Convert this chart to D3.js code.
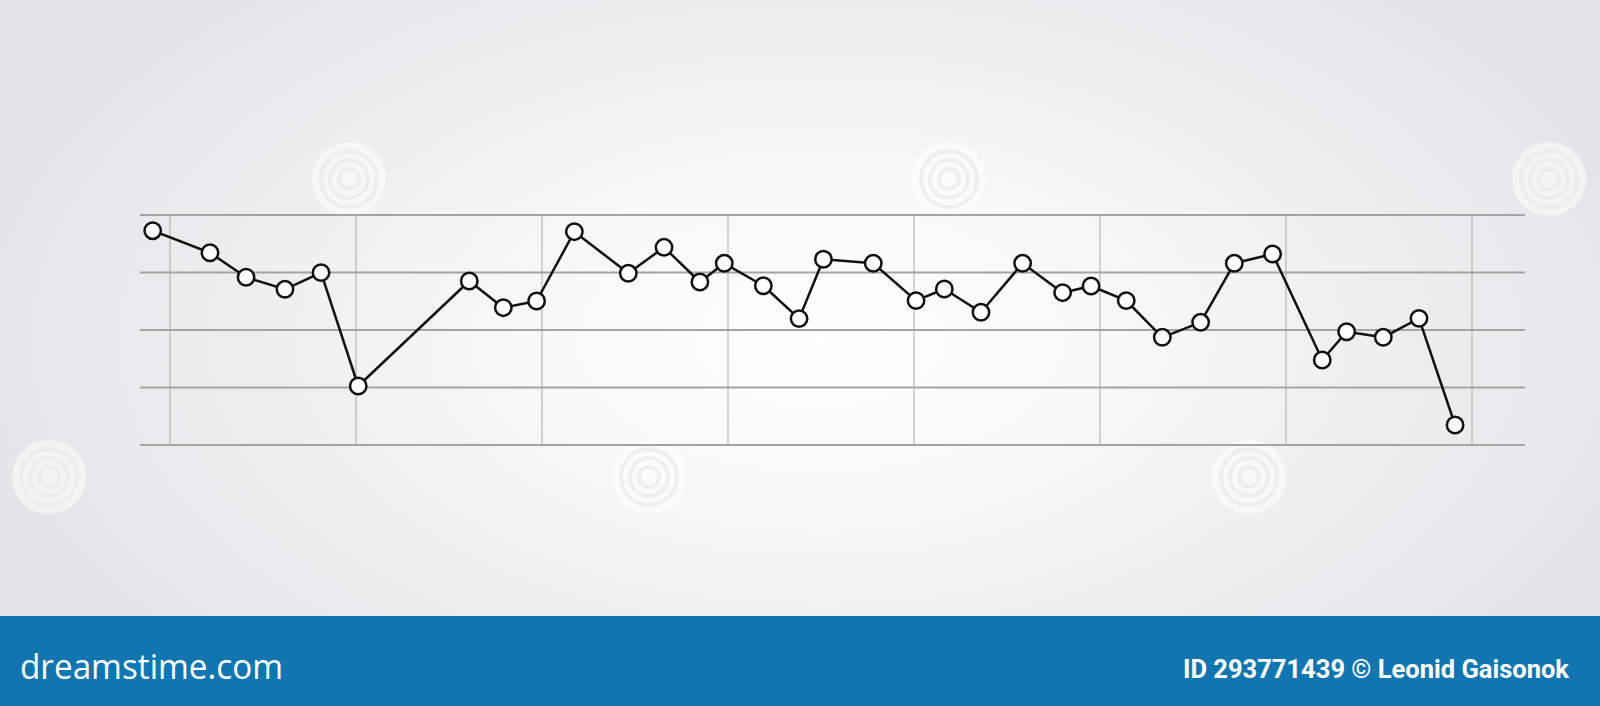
<!DOCTYPE html>
<html>
<head>
<meta charset="utf-8">
<script src="https://cdn.jsdelivr.net/npm/d3@7"></script>
<style>
html,body{margin:0;padding:0;overflow:hidden;background:#fff;}
svg{display:block;}
</style>
</head>
<body>
<svg id="chart" width="1600" height="706"></svg>
<script>
// Data (x in grid-column units, y in grid-row units)
const xValues = [-0.093,0.215,0.409,0.618,0.812,1.012,1.609,1.792,1.971,2.174,2.464,2.656,2.849,2.980,3.190,3.382,3.513,3.781,4.011,4.163,4.360,4.584,4.799,4.952,5.141,5.335,5.541,5.722,5.928,6.195,6.326,6.523,6.715,6.909];
const yValues = [3.727,3.344,2.917,2.708,2.997,1.026,2.852,2.388,2.504,3.710,2.986,3.438,2.835,3.160,2.770,2.197,3.230,3.160,2.510,2.713,2.308,3.160,2.649,2.765,2.510,1.873,2.134,3.160,3.322,1.478,1.970,1.873,2.203,0.348];
const xGridTicks = [0,1,2,3,4,5,6,7];
const yGridTicks = [0,1,2,3,4];
const brandText = "dreamstime.com";
const creditText = "ID 293771439 \u00A9 Leonid Gaisonok";

const W = 1600, H = 706;
const svg = d3.select("#chart");
const defs = svg.append("defs");
const rg = defs.append("radialGradient").attr("id","bg")
  .attr("gradientUnits","userSpaceOnUse")
  .attr("cx",820).attr("cy",340).attr("r",900)
  .attr("gradientTransform","translate(820,340) scale(1,0.55) translate(-820,-340)");
rg.append("stop").attr("offset","0").attr("stop-color","#ffffff");
rg.append("stop").attr("offset","0.35").attr("stop-color","#f7f7f7");
rg.append("stop").attr("offset","1").attr("stop-color","#e2e3e5");
svg.append("rect").attr("width",W).attr("height",H).attr("fill","url(#bg)");

// faint watermark logos
const wm = [[349,179],[949,179],[1549,179],[49,477],[649,477],[1249,477]];
const wmG = svg.append("g");
wm.forEach(([cx,cy])=>{
  wmG.append("circle").attr("cx",cx).attr("cy",cy).attr("r",37)
    .attr("fill","#ffffff").attr("opacity",0.55);
  [28,19,10].forEach(r=>{
    wmG.append("circle").attr("cx",cx).attr("cy",cy).attr("r",r)
      .attr("fill","none").attr("stroke","#e9e9e9").attr("stroke-width",4).attr("opacity",0.7);
  });
});

const x = d3.scaleLinear().domain([0,7]).range([170,1472]);
const y = d3.scaleLinear().domain([0,4]).range([445,215]);

const grid = svg.append("g");
grid.selectAll("line.v").data(xGridTicks).join("line").attr("class","v")
  .attr("x1",d=>x(d)).attr("x2",d=>x(d))
  .attr("y1",y(4)).attr("y2",y(0))
  .attr("stroke","#a9a9a9").attr("stroke-width",1);
grid.selectAll("line.h").data(yGridTicks).join("line").attr("class","h")
  .attr("x1",140).attr("x2",1525)
  .attr("y1",d=>y(d)).attr("y2",d=>y(d))
  .attr("stroke","#a4a4a4").attr("stroke-width",1.8);

const pts = xValues.map((v,i)=>[v,yValues[i]]);
const line = d3.line().x(d=>x(d[0])).y(d=>y(d[1]));
svg.append("path").datum(pts).attr("d",line)
  .attr("fill","none").attr("stroke","#111").attr("stroke-width",2.5)
  .attr("stroke-linejoin","round");
svg.append("g").selectAll("circle").data(pts).join("circle")
  .attr("cx",d=>x(d[0])).attr("cy",d=>y(d[1])).attr("r",8.2)
  .attr("fill","#fff").attr("stroke","#111").attr("stroke-width",2.5);

// banner
svg.append("rect").attr("x",0).attr("y",616).attr("width",W).attr("height",90).attr("fill","#1176b0");
svg.append("text").attr("x",20).attr("y",679).text(brandText)
  .attr("fill","#fff").attr("font-family","'Open Sans', sans-serif").attr("font-size",34).attr("font-weight",500)
  .attr("textLength",263).attr("lengthAdjust","spacingAndGlyphs");
svg.append("text").attr("x",1569).attr("y",678).attr("text-anchor","end").text(creditText)
  .attr("fill","#fff").attr("font-family","Roboto, sans-serif").attr("font-size",25.5).attr("font-weight",700);
</script>
</body>
</html>
